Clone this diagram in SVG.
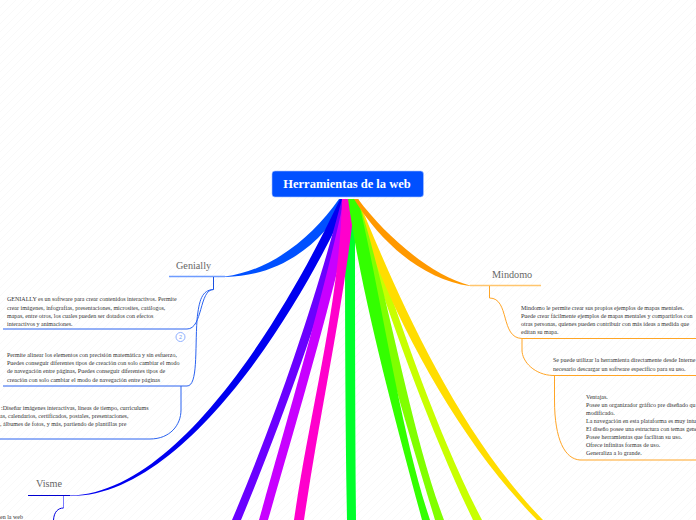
<svg xmlns="http://www.w3.org/2000/svg" width="696" height="520" viewBox="0 0 696 520">
<style>
.t{font-family:"Liberation Serif","Times New Roman",serif;font-size:6px;fill:#333}
.h{font-family:"Liberation Serif","Times New Roman",serif;font-size:10.200px;fill:#666}
.c{fill:none;stroke-width:1}
.b{stroke:#2a62f0}
.o{stroke:#ffa526}
</style>
<defs>
<pattern id="hatch" width="8" height="8" patternUnits="userSpaceOnUse">
<path d="M-1 9L9 -1" stroke="#f9f9f9" stroke-width="1" fill="none"/>
</pattern>
</defs>
<rect width="696" height="520" fill="#fff"/>
<rect width="696" height="520" fill="url(#hatch)"/>
<g id="connectors">
<path fill="#0050ff" d="M339 199C312 238 270 271 225 276.500L225 277C280 276 322 245 347 199Z"/>
<path fill="#0000f0" d="M340 199C308 268 192 493 70 495.500L70 496C196 497 318 272 349 199Z"/>
<path fill="#6a00ff" d="M342 199L352 199C331 280 291 400 241 520L232 520C283 400 321 280 342 199Z"/>
<path fill="#c800ff" d="M344 199L354 199C335 290 300 410 268 520L259 520C290 410 325 290 344 199Z"/>
<path fill="#00ff2a" d="M345 199L355 199C355 300 355 410 356 520L347 520C345 410 345 300 345 199Z"/>
<path fill="#ff00cc" d="M342 199L355 199C345 300 320 410 304 520L294 520C310 410 340 300 342 199Z"/>
<path fill="#c8ff00" d="M352 199L358 199C390 290 430 420 482 520L473 520C425 420 380 290 352 199Z"/>
<path fill="#ffdd00" d="M353 199L358 199C395 290 455 430 543 520L537 520C448 430 380 290 353 199Z"/>
<path fill="#80ff00" d="M350 199L358 199C390 300 410 430 444 520L435 520C408 430 368 300 350 199Z"/>
<path fill="#33ff00" d="M348 199L358 199C382 300 400 430 430 520L422 520C398 430 362 300 348 199Z"/>
<path fill="#ff9900" d="M358 199C385 235 430 275 470 285.500L470 286C425 280 382 245 354 199Z"/>
<path d="M169 276.500H225" stroke="#6e9bff" stroke-width="1.500" fill="none"/>
<path d="M470 285.500H541" stroke="#ffc56e" stroke-width="1.500" fill="none"/>
<path d="M28 495.500H70" stroke="#0000d0" stroke-width="1" fill="none"/>
<path class="c" stroke="#1a50e0" d="M213.500 277V289.500"/>
<path class="c b" d="M213.500 289.500C199 289.500 203 329 187 329H3"/>
<path class="c b" d="M213.500 289.500C202 290 199 300 197 320C195 350 198 386 187 386H3"/>
<path class="c b" d="M181 386V410C181 425 170 439 150 439H0"/>
<circle cx="180.500" cy="337" r="4.500" fill="#fff" stroke="#8fb0ff" stroke-width="1"/>
<path class="c" stroke="#7a7aff" d="M63.500 496V508"/>
<path class="c" stroke="#0000e0" d="M63.500 508C58 508 54 512 53.500 520"/>
<path class="c o" d="M489.500 286V298C510 298 500 338 522 338.500H696"/>
<path class="c o" d="M522 339V350C522 362 535 375 553 375.500H696"/>
<path class="c o" d="M554.500 376V400C554.500 440 565 459 580 460H696"/>
</g>
<g id="root">
<rect x="272" y="171" width="151.500" height="26" rx="3" fill="#0050ff" stroke="#a8c2ff" stroke-width="0.600"/>
<text x="347" y="188" text-anchor="middle" font-family="Liberation Serif, serif" font-weight="700" font-size="12.500" fill="#fff">Herramientas de la web</text>
</g>
<g id="genially">
<text class="h" x="176" y="269">Genially</text>
<text class="t"><tspan x="7" y="301">GENIALLY es un software para crear contenidos interactivos. Permite</tspan><tspan x="7" y="309.500">crear imágenes, infografías, presentaciones, microsites, catálogos,</tspan><tspan x="7" y="317.500">mapas, entre otros, los cuales pueden ser dotados con efectos</tspan><tspan x="7" y="325.500">interactivos y animaciones.</tspan></text>
<text x="180.500" y="339" text-anchor="middle" font-family="Liberation Sans, sans-serif" font-size="5.500" fill="#7a9cf0">2</text>
<text class="t"><tspan x="7" y="357">Permite alinear los elementos con precisión matemática y sin esfuerzo,</tspan><tspan x="7" y="365">Puedes conseguir diferentes tipos de creación con solo cambiar el modo</tspan><tspan x="7" y="373">de navegación entre páginas, Puedes conseguir diferentes tipos de</tspan><tspan x="7" y="381.500">creación con solo cambiar el modo de navegación entre páginas</tspan></text>
<text class="t"><tspan x="1" y="410">:Diseñar imágenes interactivas, líneas de tiempo, curriculums</tspan><tspan x="0" y="418">as, calendarios, certificados, postales, presentaciones,</tspan><tspan x="0" y="426">, álbumes de fotos, y más, partiendo de plantillas pre</tspan></text>
</g>
<g id="visme">
<text class="h" x="36" y="487">Visme</text>
<text class="t" x="0" y="519">en la web</text>
</g>
<g id="mindomo">
<text class="h" x="492" y="278">Mindomo</text>
<text class="t"><tspan x="521" y="310">Mindomo le permite crear sus propios ejemplos de mapas mentales.</tspan><tspan x="521" y="318">Puede crear fácilmente ejemplos de mapas mentales y compartirlos con</tspan><tspan x="521" y="326">otras personas, quienes pueden contribuir con más ideas a medida que</tspan><tspan x="521" y="334">editan su mapa.</tspan></text>
<text class="t"><tspan x="553" y="362">Se puede utilizar la herramienta directamente desde Interne</tspan><tspan x="553" y="371">necesario descargar un software específico para su uso.</tspan></text>
<text class="t"><tspan x="586" y="399">Ventajas.</tspan><tspan x="586" y="407">Posee un organizador gráfico pre diseñado qu</tspan><tspan x="586" y="415">modificado.</tspan><tspan x="586" y="423">La navegación en esta plataforma es muy intu</tspan><tspan x="586" y="431">El diseño posee una estructura con temas gene</tspan><tspan x="586" y="439">Posee herramientas que facilitan su uso.</tspan><tspan x="586" y="447">Ofrece infinitas formas de uso.</tspan><tspan x="586" y="455">Generaliza a lo grande.</tspan></text>
</g>
</svg>
